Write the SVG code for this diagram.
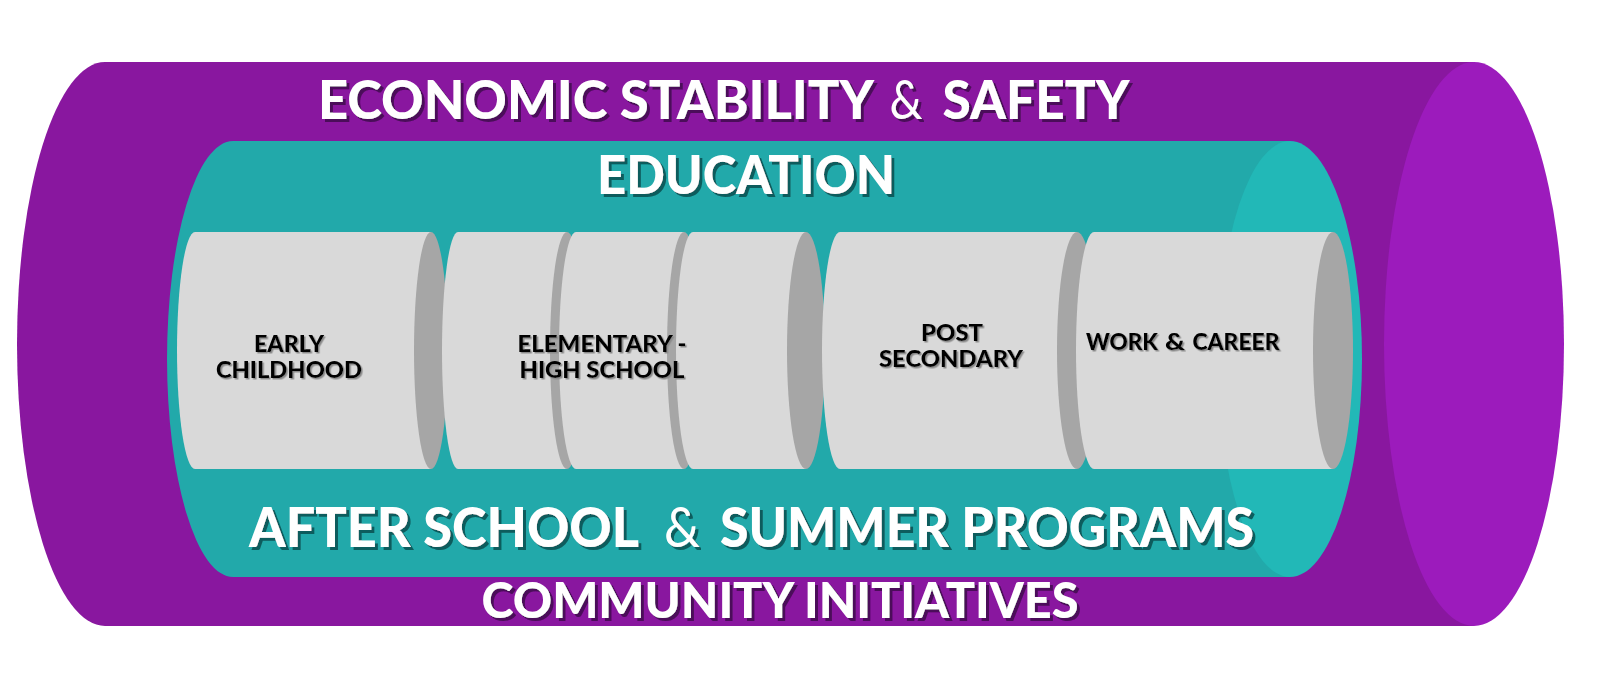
<svg xmlns="http://www.w3.org/2000/svg" width="1600" height="700" viewBox="0 0 1600 700">
<defs>
<style>
.pBody{fill:#89179F}
.pCap{fill:#9C1BBC}
.tBody{fill:#22A9AA}
.tCap{fill:#22B8B7}
.gBody{fill:#D9D9D9}
.gCap{fill:#A6A6A6}
.title{font-family:"Lato","Open Sans","Liberation Sans",sans-serif;font-weight:900;fill:#FFFFFF;text-anchor:middle}
.amp{font-weight:400}
.label{font-family:"Lato","Open Sans","Liberation Sans",sans-serif;font-weight:900;fill:#000000;text-anchor:middle;font-size:23px}
</style>
<filter id="shPurple" x="-2%" y="-10%" width="104%" height="130%">
<feDropShadow dx="3" dy="3" stdDeviation="0.4" flood-color="#4B0B5A" flood-opacity="1"/>
</filter>
<filter id="shTeal" x="-2%" y="-10%" width="104%" height="130%">
<feDropShadow dx="3" dy="3" stdDeviation="0.4" flood-color="#0E5C5D" flood-opacity="1"/>
</filter>
<filter id="shGray" x="-3%" y="-10%" width="106%" height="130%">
<feDropShadow dx="1.5" dy="1.5" stdDeviation="0.3" flood-color="#8A8A8A" flood-opacity="1"/>
</filter>
</defs>

<g id="economic-stability-safety">
<path class="pBody" d="M105,62 H1474 V626 H105 A88,282 0 0 1 105,62 Z"/>
<ellipse class="pCap" cx="1474" cy="344" rx="90" ry="282"/>
<text class="title" x="596" y="119" font-size="54" textLength="556" lengthAdjust="spacingAndGlyphs" filter="url(#shPurple)">ECONOMIC STABILITY</text>
<text class="title amp" x="906" y="119" font-size="54" textLength="33" lengthAdjust="spacingAndGlyphs" filter="url(#shPurple)">&amp;</text>
<text class="title" x="1036" y="119" font-size="54" textLength="187" lengthAdjust="spacingAndGlyphs" filter="url(#shPurple)">SAFETY</text>
<text class="title" x="780" y="618" font-size="50" textLength="597" lengthAdjust="spacingAndGlyphs" filter="url(#shPurple)">COMMUNITY INITIATIVES</text>
</g>

<g id="education">
<path class="tBody" d="M233,141 H1290 V577 H233 A66,218 0 0 1 233,141 Z"/>
<ellipse class="tCap" cx="1290" cy="359" rx="72" ry="218"/>
<text class="title" x="746" y="194" font-size="54" textLength="298" lengthAdjust="spacingAndGlyphs" filter="url(#shTeal)">EDUCATION</text>
<text class="title" x="444" y="547" font-size="56" textLength="390" lengthAdjust="spacingAndGlyphs" filter="url(#shTeal)">AFTER SCHOOL</text>
<text class="title amp" x="682" y="547" font-size="56" textLength="36" lengthAdjust="spacingAndGlyphs" filter="url(#shTeal)">&amp;</text>
<text class="title" x="987" y="547" font-size="56" textLength="534" lengthAdjust="spacingAndGlyphs" filter="url(#shTeal)">SUMMER PROGRAMS</text>
</g>

<g id="early-childhood">
<path class="gBody" d="M195,232 H431 V469 H195 A18,118.5 0 0 1 195,232 Z"/>
<ellipse class="gCap" cx="431" cy="350.5" rx="17" ry="118.5"/>
<text class="label" x="289" y="352" textLength="70" lengthAdjust="spacingAndGlyphs" filter="url(#shGray)">EARLY</text>
<text class="label" x="289" y="378" textLength="146" lengthAdjust="spacingAndGlyphs" filter="url(#shGray)">CHILDHOOD</text>
</g>

<g id="elementary-high-school">
<path class="gBody" d="M458,232 H567 V469 H458 A16,118.5 0 0 1 458,232 Z"/>
<ellipse class="gCap" cx="567" cy="350.5" rx="17" ry="118.5"/>
<path class="gBody" d="M576,232 H684 V469 H576 A17,118.5 0 0 1 576,232 Z"/>
<ellipse class="gCap" cx="684" cy="350.5" rx="17" ry="118.5"/>
<path class="gBody" d="M693,232 H806 V469 H693 A17,118.5 0 0 1 693,232 Z"/>
<ellipse class="gCap" cx="806" cy="350.5" rx="19" ry="118.5"/>
<text class="label" x="602" y="352" textLength="169" lengthAdjust="spacingAndGlyphs" filter="url(#shGray)">ELEMENTARY -</text>
<text class="label" x="602" y="378" textLength="165" lengthAdjust="spacingAndGlyphs" filter="url(#shGray)">HIGH SCHOOL</text>
</g>

<g id="post-secondary">
<path class="gBody" d="M840,232 H1077 V469 H840 A18,118.5 0 0 1 840,232 Z"/>
<ellipse class="gCap" cx="1077" cy="350.5" rx="20" ry="118.5"/>
<text class="label" x="952" y="341" textLength="62" lengthAdjust="spacingAndGlyphs" filter="url(#shGray)">POST</text>
<text class="label" x="951" y="367" textLength="144" lengthAdjust="spacingAndGlyphs" filter="url(#shGray)">SECONDARY</text>
</g>

<g id="work-career">
<path class="gBody" d="M1094,232 H1333 V469 H1094 A18,118.5 0 0 1 1094,232 Z"/>
<ellipse class="gCap" cx="1333" cy="350.5" rx="20" ry="118.5"/>
<text class="label" x="1122" y="350" textLength="72" lengthAdjust="spacingAndGlyphs" filter="url(#shGray)">WORK</text>
<text class="label amp" x="1175" y="350" textLength="20" lengthAdjust="spacingAndGlyphs" filter="url(#shGray)">&amp;</text>
<text class="label" x="1236" y="350" textLength="87" lengthAdjust="spacingAndGlyphs" filter="url(#shGray)">CAREER</text>
</g>
</svg>
